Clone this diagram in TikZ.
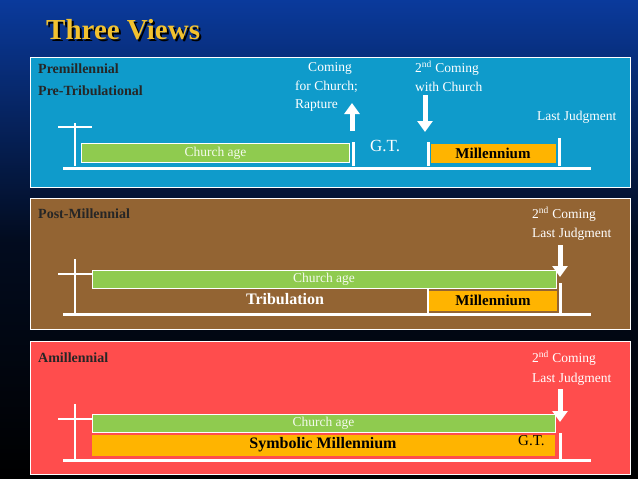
\documentclass[tikz,border=0pt]{standalone}
\usepackage{fontspec}
\setmainfont{Liberation Serif}
\usetikzlibrary{arrows.meta}
\definecolor{cyanp}{HTML}{0F9BCB}
\definecolor{brownp}{HTML}{936433}
\definecolor{redp}{HTML}{FF4D4D}
\definecolor{greenb}{HTML}{8FCB4F}
\definecolor{orangeb}{HTML}{FFB400}
\definecolor{gold}{HTML}{F2C230}
\definecolor{topblue}{HTML}{0A3A9C}
\begin{document}
\begin{tikzpicture}[x=1pt,y=-1pt,
  panel/.style={draw=white,line width=1pt},
  lab/.style={anchor=west,inner sep=0,font=\fontsize{14}{16}\selectfont\bfseries,text=black!85},
  wlab/.style={anchor=west,inner sep=0,font=\fontsize{13.5}{16}\selectfont,text=white},
  greenbar/.style={draw=white,line width=0.8pt,fill=greenb,inner sep=0,font=\fontsize{13.5}{16}\selectfont,text=white!90!greenb},
  orangebar/.style={fill=orangeb,inner sep=0,font=\fontsize{15}{17}\selectfont\bfseries,text=black},
  wline/.style={white,line width=3pt},
  tick/.style={white,line width=3pt},
  bigarrow/.style={white,line width=5pt,-{Triangle[length=11pt,width=15pt]}}]
\useasboundingbox (0,0) rectangle (638,479);
\shade[top color=topblue,bottom color=black,middle color=black!80!topblue] (0,0) rectangle (638,479);
\node[anchor=west,inner sep=0,font=\fontsize{29}{32}\selectfont\bfseries,text=black] at (48,32) {Three Views};
\node[anchor=west,inner sep=0,font=\fontsize{29}{32}\selectfont\bfseries,text=gold] (title) at (46,30) {Three Views};
% Panel 1
\draw[panel,fill=cyanp] (30,57) rectangle (630,187);
\node[lab] (p1a) at (38,69) {Premillennial};
\node[lab] (p1b) at (38,91) {Pre-Tribulational};
\coordinate (c1t) at (75,123); \coordinate (c1b) at (75,166);
\coordinate (c1l) at (58,127); \coordinate (c1r) at (92,127);
\draw[wline,line width=2.5pt] (c1t) -- (c1b); \draw[wline,line width=2.5pt] (c1l) -- (c1r);
\coordinate (b1l) at (63,168); \coordinate (b1r) at (591,168);
\draw[wline] (b1l) -- (b1r);
\node[greenbar,minimum width=268pt,minimum height=19pt] (ca1) at (215.5,153) {Church age};
\coordinate (t1a) at (353,142); \coordinate (t1ab) at (353,166);
\draw[tick] (t1a) -- (t1ab);
\node[anchor=west,inner sep=0,font=\fontsize{17}{19}\selectfont,text=white] (gt1) at (370,146) {G.T.};
\coordinate (t1b) at (428,142); \coordinate (t1bb) at (428,166);
\draw[tick] (t1b) -- (t1bb);
\node[orangebar,minimum width=125pt,minimum height=19pt] (mil1) at (493,153) {Millennium};
\coordinate (t1c) at (559,138); \coordinate (t1cb) at (559,166);
\draw[tick] (t1c) -- (t1cb);
\coordinate (u1s) at (352,131); \coordinate (u1e) at (352,103);
\draw[bigarrow] (u1s) -- (u1e);
\coordinate (d1s) at (425,95); \coordinate (d1e) at (425,132);
\draw[bigarrow] (d1s) -- (d1e);
\node[wlab,anchor=center] (cm1) at (330,68) {Coming};
\node[wlab] (cm2) at (295,87) {for Church;};
\node[wlab] (cm3) at (295,106) {Rapture};
\node[wlab] (sc1) at (415,68) {2\textsuperscript{nd} Coming};
\node[wlab] (sc2) at (415,87) {with Church};
\node[wlab] (lj1) at (537,117) {Last Judgment};
% Panel 2
\draw[panel,fill=brownp] (30,198) rectangle (630,329);
\node[lab] (p2) at (38,214) {Post-Millennial};
\node[wlab] (sc3) at (532,214) {2\textsuperscript{nd} Coming};
\node[wlab] (lj2) at (532,234) {Last Judgment};
\coordinate (c2t) at (75,259); \coordinate (c2b) at (75,313);
\coordinate (c2l) at (58,274); \coordinate (c2r) at (92,274);
\draw[wline,line width=2.5pt] (c2t) -- (c2b); \draw[wline,line width=2.5pt] (c2l) -- (c2r);
\coordinate (b2l) at (63,314); \coordinate (b2r) at (591,314);
\draw[wline] (b2l) -- (b2r);
\node[greenbar,minimum width=464pt,minimum height=18pt] (ca2) at (324,279) {Church age};
\node[inner sep=0,font=\fontsize{16}{18}\selectfont\bfseries,text=white] (trib) at (285,299) {Tribulation};
\node[orangebar,minimum width=128pt,minimum height=20pt] (mil2) at (493,300.5) {Millennium};
\coordinate (t2a) at (428,289); \coordinate (t2ab) at (428,313);
\draw[tick,line width=2pt] (t2a) -- (t2ab);
\coordinate (t2b) at (560,283); \coordinate (t2bb) at (560,313);
\draw[tick] (t2b) -- (t2bb);
\coordinate (d2s) at (560,245); \coordinate (d2e) at (560,277);
\draw[bigarrow] (d2s) -- (d2e);
% Panel 3
\draw[panel,fill=redp] (30,341) rectangle (630,474);
\node[lab] (p3) at (38,358) {Amillennial};
\node[wlab] (sc4) at (532,358) {2\textsuperscript{nd} Coming};
\node[wlab] (lj3) at (532,379) {Last Judgment};
\coordinate (c3t) at (75,404); \coordinate (c3b) at (75,459);
\coordinate (c3l) at (58,419); \coordinate (c3r) at (92,419);
\draw[wline,line width=2.5pt] (c3t) -- (c3b); \draw[wline,line width=2.5pt] (c3l) -- (c3r);
\coordinate (b3l) at (63,460); \coordinate (b3r) at (591,460);
\draw[wline] (b3l) -- (b3r);
\node[greenbar,minimum width=463pt,minimum height=18pt] (ca3) at (323.5,423) {Church age};
\node[orangebar,minimum width=463pt,minimum height=21pt] (mil3) at (323.5,445) {};
\node[inner sep=0,font=\fontsize{16}{18}\selectfont\bfseries,text=black] (sm) at (323,445) {Symbolic Millennium};
\node[anchor=west,inner sep=0,font=\fontsize{15}{17}\selectfont,text=black] (gt3) at (518,441) {G.T.};
\coordinate (t3a) at (560,433); \coordinate (t3ab) at (560,459);
\draw[tick] (t3a) -- (t3ab);
\coordinate (d3s) at (560,389); \coordinate (d3e) at (560,422);
\draw[bigarrow] (d3s) -- (d3e);
\end{tikzpicture}
\end{document}
